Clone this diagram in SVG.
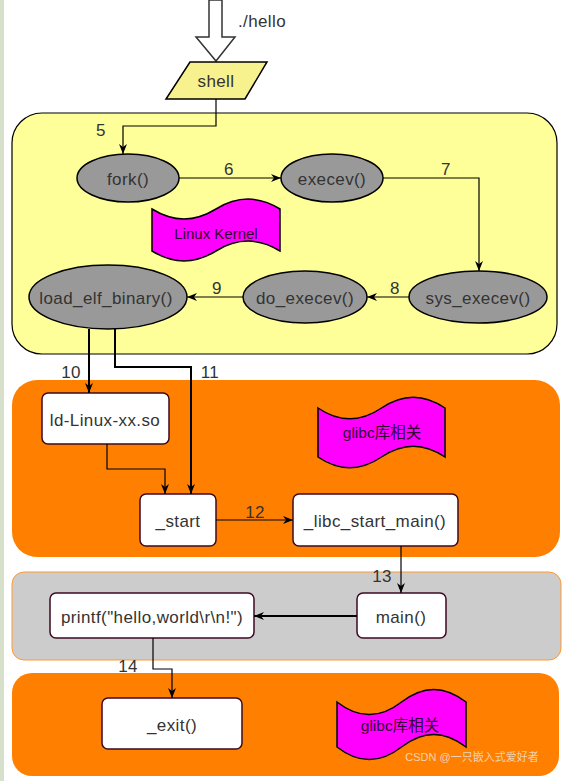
<svg xmlns="http://www.w3.org/2000/svg" width="567" height="781" viewBox="0 0 567 781">
<defs>
<marker id="arr" viewBox="0 0 10 10" refX="10" refY="5" markerWidth="10" markerHeight="10" markerUnits="userSpaceOnUse" orient="auto">
<path d="M0,1 L10,5 L0,9 L3,5 Z" fill="#000"/>
</marker>
<style>
text{font-family:"Liberation Sans",Arial,"Noto Sans CJK SC",sans-serif;font-size:17px;letter-spacing:0.4px;fill:#333;text-anchor:middle;dominant-baseline:central}
.cjk{font-family:"Liberation Sans","Noto Sans CJK SC",sans-serif;font-size:15.5px;letter-spacing:0;fill:#330033}
.ell{fill:#999;stroke:#000;stroke-width:1.5}
.box{fill:#fff;stroke:#3d0a22;stroke-width:1.5}
.flag{fill:#ff00ff;stroke:#000;stroke-width:1.5}
.c{fill:none;stroke:#000;stroke-width:1.2}
.t{fill:none;stroke:#000;stroke-width:2}
.lbl{fill:#333}
</style>
</defs>
<rect x="0" y="0" width="567" height="781" fill="#fff"/>
<rect x="0" y="0" width="4" height="781" fill="#d6e0ca"/>

<!-- containers -->
<g id="kernel-area">
<rect x="12" y="113" width="545" height="241" rx="30" fill="#ffff99" stroke="#000" stroke-width="1.2"/>
</g>
<g id="glibc-area-1">
<rect x="12" y="380" width="548" height="177" rx="25" fill="#ff8000"/>
</g>
<g id="user-area">
<rect x="12" y="572" width="549" height="88" rx="12" fill="#cccccc" stroke="#ff9933" stroke-width="1"/>
</g>
<g id="glibc-area-2">
<rect x="12" y="673" width="547" height="103" rx="20" fill="#ff8000"/>
</g>

<!-- input arrow -->
<g id="input">
<polygon points="209,0 222,0 222,37 235,37 216,61 196,37 209,37" fill="#fff" stroke="#333" stroke-width="1.5"/>
<text x="262" y="21" class="lbl">./hello</text>
</g>

<g id="shell">
<polygon points="190,62 267,62 245,99 166,99" fill="#f7f18e" stroke="#000" stroke-width="1.5"/>
<text x="216" y="81">shell</text>
</g>

<g id="fork">
<ellipse cx="128" cy="178" rx="51" ry="24" class="ell"/>
<text x="128" y="179">fork()</text>
</g>
<g id="execev">
<ellipse cx="332" cy="178" rx="51" ry="24" class="ell"/>
<text x="332" y="179">execev()</text>
</g>
<g id="linux-kernel">
<path class="flag" d="M152,209 Q184,228.8 216,209 Q248,189.2 280,209 L280,251 Q248,231.2 216,251 Q184,270.8 152,251 Z"/>
<text x="216" y="233" style="font-size:15px;letter-spacing:0;fill:#330033">Linux Kernel</text>
</g>
<g id="sys_execev">
<ellipse cx="478" cy="297" rx="69" ry="26" class="ell"/>
<text x="478" y="298">sys_execev()</text>
</g>
<g id="do_execev">
<ellipse cx="305" cy="297" rx="62" ry="26" class="ell"/>
<text x="305" y="298">do_execev()</text>
</g>
<g id="load_elf_binary">
<ellipse cx="108" cy="297" rx="79" ry="32" class="ell"/>
<text x="106" y="298">load_elf_binary()</text>
</g>

<g id="ld-linux">
<rect x="42" y="393" width="127" height="51" rx="6" class="box"/>
<text x="105" y="420">ld-Linux-xx.so</text>
</g>
<g id="glibc-flag-1">
<path class="flag" d="M318,408 Q349.75,429.6 381.5,408 Q413.25,386.4 445,408 L445,457 Q413.25,435.4 381.5,457 Q349.75,478.6 318,457 Z"/>
<text x="382" y="432" class="cjk">glibc库相关</text>
</g>
<g id="start">
<rect x="140" y="494" width="76" height="52" rx="6" class="box"/>
<text x="178" y="521">_start</text>
</g>
<g id="libc_start_main">
<rect x="293" y="494" width="165" height="52" rx="6" class="box"/>
<text x="375" y="521">_libc_start_main()</text>
</g>

<g id="printf">
<rect x="50" y="593" width="204" height="45" rx="6" class="box"/>
<text x="152" y="617">printf("hello,world\r\n!")</text>
</g>
<g id="main">
<rect x="357" y="593" width="89" height="45" rx="6" class="box"/>
<text x="401" y="617">main()</text>
</g>

<g id="exit">
<rect x="102" y="698" width="140" height="51" rx="6" class="box"/>
<text x="172" y="725">_exit()</text>
</g>
<g id="glibc-flag-2">
<path class="flag" d="M337,702 Q369.25,727.2 401.5,702 Q433.75,676.8 466,702 L466,747 Q433.75,721.8 401.5,747 Q369.25,772.2 337,747 Z"/>
<text x="400" y="725" class="cjk">glibc库相关</text>
</g>

<!-- connectors -->
<g id="connectors">
<path class="c" d="M216,99 V126 H123 V154" marker-end="url(#arr)"/>
<path class="c" d="M179,178 H281" marker-end="url(#arr)"/>
<path class="c" d="M383,178 H479 V271" marker-end="url(#arr)"/>
<path class="c" d="M409,297 H367" marker-end="url(#arr)"/>
<path class="c" d="M243,297 H187" marker-end="url(#arr)"/>
<path class="t" d="M89,329 V393" marker-end="url(#arr)"/>
<path class="t" d="M115,329 V367 H191 V494" marker-end="url(#arr)"/>
<path class="c" d="M107,444 V469 H165 V494" stroke="#4a2000" marker-end="url(#arr)"/>
<path class="c" d="M216,520 H293" marker-end="url(#arr)"/>
<path class="c" d="M401,546 V593" marker-end="url(#arr)"/>
<path class="t" d="M357,616 H254" marker-end="url(#arr)"/>
<path class="c" d="M153,638 V669 H172 V698" marker-end="url(#arr)"/>
</g>

<g id="connector-labels">
<text x="101" y="130" class="lbl">5</text>
<text x="229" y="169" class="lbl">6</text>
<text x="446" y="169" class="lbl">7</text>
<text x="395" y="288" class="lbl">8</text>
<text x="217" y="288" class="lbl">9</text>
<text x="71" y="372" class="lbl">10</text>
<text x="210" y="372" class="lbl">11</text>
<text x="255" y="512" class="lbl">12</text>
<text x="382" y="576" class="lbl">13</text>
<text x="128" y="666" class="lbl">14</text>
</g>

<text x="472" y="757" style="font-size:11px;letter-spacing:0;fill:#f0d2b0;font-family:'Liberation Sans','Noto Sans CJK SC',sans-serif">CSDN @一只嵌入式爱好者</text>
</svg>
